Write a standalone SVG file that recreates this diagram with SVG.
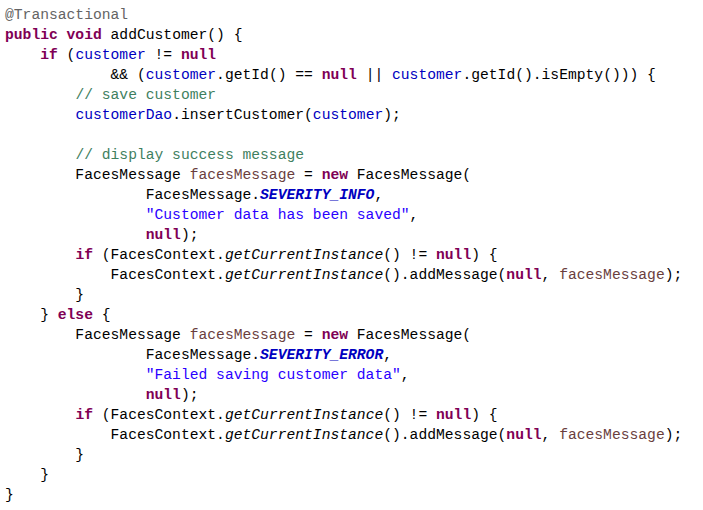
<svg xmlns="http://www.w3.org/2000/svg" width="703" height="510" viewBox="0 0 703 510">
<style>
text{font-family:"Liberation Mono","DejaVu Sans Mono",monospace;font-size:14.67px;fill:#000;white-space:pre}
.k{fill:#7f0055;font-weight:bold}
.f{fill:#0000c0}
.s{fill:#2a00ff}
.c{fill:#3f7f5f}
.a{fill:#646464}
.l{fill:#6a3e3e}
.i{font-style:italic}
.sf{fill:#0000c0;font-weight:bold;font-style:italic}
</style>
<rect width="703" height="510" fill="#fff"/>
<g xml:space="preserve">
<text x="5" y="19"><tspan class="a">@Transactional</tspan></text>
<text x="5" y="39"><tspan class="k">public</tspan> <tspan class="k">void</tspan> addCustomer() {</text>
<text x="5" y="59">    <tspan class="k">if</tspan> (<tspan class="f">customer</tspan> != <tspan class="k">null</tspan></text>
<text x="5" y="79">            &amp;&amp; (<tspan class="f">customer</tspan>.getId() == <tspan class="k">null</tspan> || <tspan class="f">customer</tspan>.getId().isEmpty())) {</text>
<text x="5" y="99">        <tspan class="c">// save customer</tspan></text>
<text x="5" y="119">        <tspan class="f">customerDao</tspan>.insertCustomer(<tspan class="f">customer</tspan>);</text>
<text x="5" y="159">        <tspan class="c">// display success message</tspan></text>
<text x="5" y="179">        FacesMessage <tspan class="l">facesMessage</tspan> = <tspan class="k">new</tspan> FacesMessage(</text>
<text x="5" y="199">                FacesMessage.<tspan class="sf">SEVERITY_INFO</tspan>,</text>
<text x="5" y="219">                <tspan class="s">"Customer data has been saved"</tspan>,</text>
<text x="5" y="239">                <tspan class="k">null</tspan>);</text>
<text x="5" y="259">        <tspan class="k">if</tspan> (FacesContext.<tspan class="i">getCurrentInstance</tspan>() != <tspan class="k">null</tspan>) {</text>
<text x="5" y="279">            FacesContext.<tspan class="i">getCurrentInstance</tspan>().addMessage(<tspan class="k">null</tspan>, <tspan class="l">facesMessage</tspan>);</text>
<text x="5" y="299">        }</text>
<text x="5" y="319">    } <tspan class="k">else</tspan> {</text>
<text x="5" y="339">        FacesMessage <tspan class="l">facesMessage</tspan> = <tspan class="k">new</tspan> FacesMessage(</text>
<text x="5" y="359">                FacesMessage.<tspan class="sf">SEVERITY_ERROR</tspan>,</text>
<text x="5" y="379">                <tspan class="s">"Failed saving customer data"</tspan>,</text>
<text x="5" y="399">                <tspan class="k">null</tspan>);</text>
<text x="5" y="419">        <tspan class="k">if</tspan> (FacesContext.<tspan class="i">getCurrentInstance</tspan>() != <tspan class="k">null</tspan>) {</text>
<text x="5" y="439">            FacesContext.<tspan class="i">getCurrentInstance</tspan>().addMessage(<tspan class="k">null</tspan>, <tspan class="l">facesMessage</tspan>);</text>
<text x="5" y="459">        }</text>
<text x="5" y="479">    }</text>
<text x="5" y="499">}</text>
</g>
</svg>
